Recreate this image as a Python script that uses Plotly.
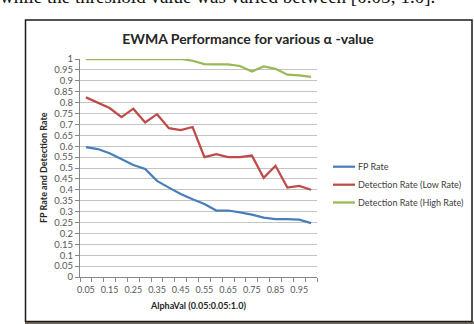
import plotly.graph_objects as go

alpha = [0.05, 0.10, 0.15, 0.20, 0.25, 0.30, 0.35, 0.40, 0.45, 0.50,
         0.55, 0.60, 0.65, 0.70, 0.75, 0.80, 0.85, 0.90, 0.95, 1.00]
fp_rate = [0.596, 0.587, 0.568, 0.542, 0.514, 0.496, 0.441, 0.41, 0.381, 0.357,
           0.335, 0.305, 0.305, 0.296, 0.286, 0.272, 0.265, 0.265, 0.263, 0.247]
det_low = [0.824, 0.798, 0.775, 0.733, 0.772, 0.709, 0.747, 0.683, 0.674, 0.688,
           0.55, 0.564, 0.55, 0.55, 0.557, 0.455, 0.51, 0.41, 0.418, 0.40]
det_high = [1.0, 1.0, 1.0, 1.0, 1.0, 1.0, 1.0, 1.0, 1.0, 0.992,
            0.977, 0.975, 0.975, 0.968, 0.943, 0.966, 0.955, 0.928, 0.925, 0.918]
series_names = ["FP Rate", "Detection Rate (Low Rate)", "Detection Rate (High Rate)"]
series_colors = ["#4A7EBB", "#BE4B48", "#98B954"]
x_ticks = [0.05, 0.15, 0.25, 0.35, 0.45, 0.55, 0.65, 0.75, 0.85, 0.95]
x_ticktext = ["0.05", "0.15", "0.25", "0.35", "0.45", "0.55", "0.65", "0.75", "0.85", "0.95"]
y_ticks = [round(0.05 * i, 2) for i in range(21)]
y_ticktext = ["0", "0.05", "0.1", "0.15", "0.2", "0.25", "0.3", "0.35", "0.4", "0.45", "0.5",
              "0.55", "0.6", "0.65", "0.7", "0.75", "0.8", "0.85", "0.9", "0.95", "1"]

W, H = 474, 324
ML, MR, MT, MB = 80, 157, 59, 47
PW, PH = W - ML - MR, H - MT - MB

def px(x):
    return (x - ML) / PW

def py(y):
    return (H - MB - y) / PH

FONT = "Lato"
GRAY = "#595959"

fig = go.Figure()
for name, color, vals in zip(series_names, series_colors, [fp_rate, det_low, det_high]):
    fig.add_trace(go.Scatter(x=alpha, y=vals, mode="lines", name=name,
                             line=dict(color=color, width=2.25), showlegend=False))

fig.update_layout(
    width=W, height=H,
    margin=dict(l=ML, r=MR, t=MT, b=MB, pad=0),
    paper_bgcolor="white", plot_bgcolor="white",
    font=dict(family=FONT, size=9.5, color=GRAY),
    title=dict(text="<b>EWMA Performance for various α -value</b>",
               x=248 / W, xref="container", xanchor="center",
               y=1 - 39 / H, yref="container", yanchor="middle",
               font=dict(family=FONT, size=14, color="#262626")),
    xaxis=dict(range=[0.025, 1.025], tickvals=x_ticks, ticktext=x_ticktext,
               ticks="outside", ticklen=4, tickcolor="rgba(0,0,0,0)",
               showline=True, linecolor="#868686", linewidth=1,
               showgrid=False, zeroline=False,
               tickfont=dict(family=FONT, size=9, color=GRAY),
               minor=dict(ticks="outside", ticklen=4, tick0=0.025, dtick=0.05,
                          tickcolor="#868686", showgrid=False)),
    yaxis=dict(range=[0, 1], tickvals=y_ticks, ticktext=y_ticktext,
               ticks="outside", ticklen=4, tickcolor="#868686",
               showline=True, linecolor="#868686", linewidth=1,
               showgrid=True, gridcolor="#c4c4c4", gridwidth=1, zeroline=False,
               tickfont=dict(family=FONT, size=9.5, color=GRAY)),
    showlegend=False,
)

# legend drawn as shapes + text
legend_rows = [166.7, 184.7, 202.5]
for name, color, ry in zip(series_names, series_colors, legend_rows):
    fig.add_shape(type="line", xref="paper", yref="paper",
                  x0=px(333), x1=px(355), y0=py(ry), y1=py(ry),
                  line=dict(color=color, width=2.25))
    fig.add_annotation(text=name, x=px(356), y=py(ry), xref="paper", yref="paper",
                       xanchor="left", yanchor="middle", showarrow=False,
                       font=dict(family=FONT, size=9, color="#404040"))

fig.add_annotation(text="<b>FP Rate and Detection Rate</b>", textangle=-90,
                   x=px(43), y=py(168), xref="paper", yref="paper",
                   xanchor="center", yanchor="middle", showarrow=False,
                   font=dict(family=FONT, size=9, color="#262626"))
fig.add_annotation(text="<b>AlphaVal (0.05:0.05:1.0)</b>",
                   x=px(198), y=py(305), xref="paper", yref="paper",
                   xanchor="center", yanchor="middle", showarrow=False,
                   font=dict(family=FONT, size=9, color="#262626"))
fig.add_annotation(text="while the threshold value was varied between [0.05; 1.0].",
                   x=px(-2), y=py(9), xref="paper", yref="paper",
                   xanchor="left", yanchor="bottom", showarrow=False,
                   font=dict(family="Liberation Serif", size=19, color="#111111"))

fig.add_shape(type="rect", xref="paper", yref="paper",
              x0=px(25), x1=px(474), y0=py(326), y1=py(321.5),
              fillcolor="#766c62", line=dict(width=0), layer="above")
fig.add_shape(type="rect", xref="paper", yref="paper",
              x0=px(25.5), x1=px(472), y0=py(321.5), y1=py(20),
              fillcolor="rgba(0,0,0,0)", line=dict(color="#1a1a1a", width=1.5))

fig.write_html("out.html")
